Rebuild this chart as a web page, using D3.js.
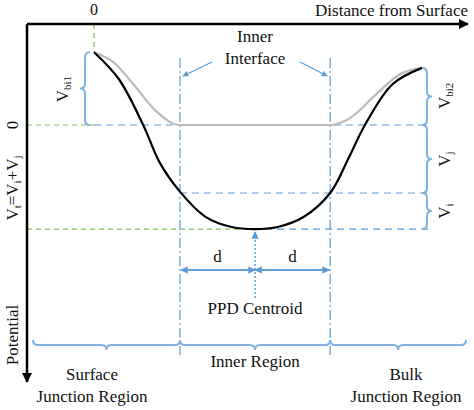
<!DOCTYPE html>
<html><head><meta charset="utf-8">
<script src="https://cdn.jsdelivr.net/npm/d3@7"></script>
<style>body{margin:0;background:#fff}svg text{font-family:"Liberation Serif","DejaVu Serif",serif;fill:#111}</style>
</head><body>
<script>
// distance in arbitrary units (0 = surface), potential in units of Vj
const blackCurve = [[0,1.07],[0.75,0.68],[1.5,0],[2.0,-0.55],[2.62,-0.98],[3.4,-1.35],[4.2,-1.5],[4.91,-1.53],[5.6,-1.5],[6.4,-1.35],[7.2,-1],[7.75,-0.5],[8.26,0],[9.1,0.6],[10,0.84]];
const grayCurve = [[0,1.07],[0.6,0.92],[1.2,0.6],[1.9,0.2],[2.62,0],[7.2,0],[7.8,0.1],[8.6,0.45],[9.3,0.74],[10,0.84]];
const interfaces = [2.62, 7.2];
const centroid = 4.91;
const levels = {vbi1: 1.07, vbi2: 0.84, zero: 0, vj: -1, vt: -1.53};

const W = 474, H = 410;
const x = d3.scaleLinear().domain([0, 10]).range([94, 422]);
const y = d3.scaleLinear().domain([0, -1]).range([125, 193]);
const blue = "#5b9bd5", green = "#7cc25a", brace = "#7fb2e0";
const FONT = "Liberation Serif, DejaVu Serif, serif";

const svg = d3.select("body").append("svg").attr("width", W).attr("height", H).attr("font-family", FONT);
const defs = svg.append("defs");
const mk = (id, c, s) => defs.append("marker").attr("id", id).attr("viewBox", "0 0 10 10")
  .attr("refX", 9).attr("refY", 5).attr("markerWidth", s).attr("markerHeight", s).attr("orient", "auto-start-reverse")
  .append("path").attr("d", "M0,0L10,5L0,10z").attr("fill", c);
mk("ak", "#000", 4); mk("ab", blue, 5);

const X0 = 27, Y0 = 24;
const line = (x1, y1, x2, y2, c, dash, w = 1.2) => svg.append("line").attr("x1", x1).attr("y1", y1).attr("x2", x2).attr("y2", y2)
  .attr("stroke", c).attr("stroke-width", w).attr("stroke-dasharray", dash);

// guide lines
line(x(0), Y0, x(0), y(levels.vbi1), green, "5,4");
line(X0, y(0), x(0), y(0), green, "5,4");
line(x(0), y(0), 430, y(0), blue, "7,5");
line(x(interfaces[0]), y(levels.vj), 430, y(levels.vj), blue, "7,5");
line(X0, y(levels.vt), x(centroid) - 10, y(levels.vt), green, "5,4");
line(x(centroid) + 10, y(levels.vt), 430, y(levels.vt), blue, "7,5");
interfaces.forEach(v => line(x(v), 58, x(v), 355, blue, "10,3,2,3"));

// curves
const gen = d3.line().x(d => x(d[0])).y(d => y(d[1]));
svg.append("path").attr("d", gen.curve(d3.curveMonotoneX)(grayCurve)).attr("fill", "none").attr("stroke", "#bbb").attr("stroke-width", 2.2);
svg.append("path").attr("d", gen.curve(d3.curveCatmullRom)(blackCurve)).attr("fill", "none").attr("stroke", "#000").attr("stroke-width", 2.2);

// axes
line(X0, Y0, 468, Y0, "#000", null, 2.5).attr("marker-end", "url(#ak)");
line(X0, Y0, X0, 382, "#000", null, 2.5).attr("marker-end", "url(#ak)");

const txt = (s, tx, ty, size = 16, anchor = "middle", rot = 0) => svg.append("text").attr("x", tx).attr("y", ty)
  .attr("font-size", size).attr("text-anchor", anchor).attr("transform", rot ? `rotate(${rot},${tx},${ty})` : null).text(s);
txt("0", x(0), 15);
txt("Distance from Surface", 468, 16, 17, "end");
txt("Inner", x(centroid), 42, 17); txt("Interface", x(centroid), 64, 17);
line(x(centroid) - 43, 62, x(interfaces[0]) + 3, 76, blue, null).attr("marker-end", "url(#ab)");
line(x(centroid) + 45, 62, x(interfaces[1]) - 3, 76, blue, null).attr("marker-end", "url(#ab)");

function vBrace(bx, y1, y2, dir) {
  const m = (y1 + y2) / 2, r = 5;
  const p = `M${bx + dir * r},${y1} Q${bx},${y1} ${bx},${y1 + r} L${bx},${m - r} Q${bx},${m} ${bx - dir * r},${m} Q${bx},${m} ${bx},${m + r} L${bx},${y2 - r} Q${bx},${y2} ${bx + dir * r},${y2}`;
  svg.append("path").attr("d", p).attr("fill", "none").attr("stroke", brace).attr("stroke-width", 2);
}
function hBrace(x1, x2, by) {
  const m = (x1 + x2) / 2, r = 5;
  const p = `M${x1},${by - r} Q${x1},${by} ${x1 + r},${by} L${m - r},${by} Q${m},${by} ${m},${by + r} Q${m},${by} ${m + r},${by} L${x2 - r},${by} Q${x2},${by} ${x2},${by - r}`;
  svg.append("path").attr("d", p).attr("fill", "none").attr("stroke", brace).attr("stroke-width", 2);
}
vBrace(85, y(levels.vbi1), y(0), 1);
vBrace(427, y(levels.vbi2), y(0), -1);
vBrace(427, y(0), y(levels.vj), -1);
vBrace(427, y(levels.vj), y(levels.vt), -1);

const sub = (main, s, tx, ty, rot) => {
  const t = svg.append("text").attr("x", tx).attr("y", ty).attr("font-size", 17).attr("text-anchor", "middle")
    .attr("transform", `rotate(${rot},${tx},${ty})`);
  t.append("tspan").text(main);
  t.append("tspan").attr("font-size", 11).attr("dy", 3).text(s);
  return t;
};
sub("V", "bi1", 68, y(0) - 36, -90);
sub("V", "bi2", 450, y(levels.vbi2) + 28, -90);
sub("V", "j", 450, (y(0) + y(levels.vj)) / 2, -90);
sub("V", "i", 450, (y(levels.vj) + y(levels.vt)) / 2, -90);
txt("0", 18, y(0), 17, "middle", -90);
const vt = svg.append("text").attr("x", 18).attr("y", 188).attr("font-size", 17).attr("text-anchor", "middle").attr("transform", "rotate(-90,18,188)");
vt.append("tspan").text("V"); vt.append("tspan").attr("font-size", 11).attr("dy", 3).text("t");
vt.append("tspan").attr("dy", -3).text("=V"); vt.append("tspan").attr("font-size", 11).attr("dy", 3).text("i");
vt.append("tspan").attr("dy", -3).text("+V"); vt.append("tspan").attr("font-size", 11).attr("dy", 3).text("j");
txt("Potential", 18, 335, 17, "middle", -90);

// d arrows
line(x(centroid), 270, x(interfaces[0]) + 1, 270, blue, null, 1.5).attr("marker-end", "url(#ab)");
line(x(interfaces[0]) + 1, 270, x(centroid), 270, blue, null, 1.5).attr("marker-end", "url(#ab)");
line(x(centroid), 270, x(interfaces[1]) - 1, 270, blue, null, 1.5).attr("marker-end", "url(#ab)");
line(x(interfaces[1]) - 1, 270, x(centroid), 270, blue, null, 1.5).attr("marker-end", "url(#ab)");
txt("d", (x(interfaces[0]) + x(centroid)) / 2, 262, 17);
txt("d", (x(interfaces[1]) + x(centroid)) / 2, 262, 17);
line(x(centroid), 298, x(centroid), y(levels.vt) + 3, blue, "2,2", 1.5).attr("marker-end", "url(#ab)");
txt("PPD Centroid", x(centroid), 314, 17);

// region braces
hBrace(X0 + 6, x(interfaces[0]), 345);
hBrace(x(interfaces[0]), x(interfaces[1]), 345);
hBrace(x(interfaces[1]), 466, 345);
txt("Surface", 92, 380, 17); txt("Junction Region", 92, 402, 17);
txt("Inner Region", x(centroid), 367, 17);
txt("Bulk", 406, 380, 17); txt("Junction Region", 406, 402, 17);
</script>
</body></html>
